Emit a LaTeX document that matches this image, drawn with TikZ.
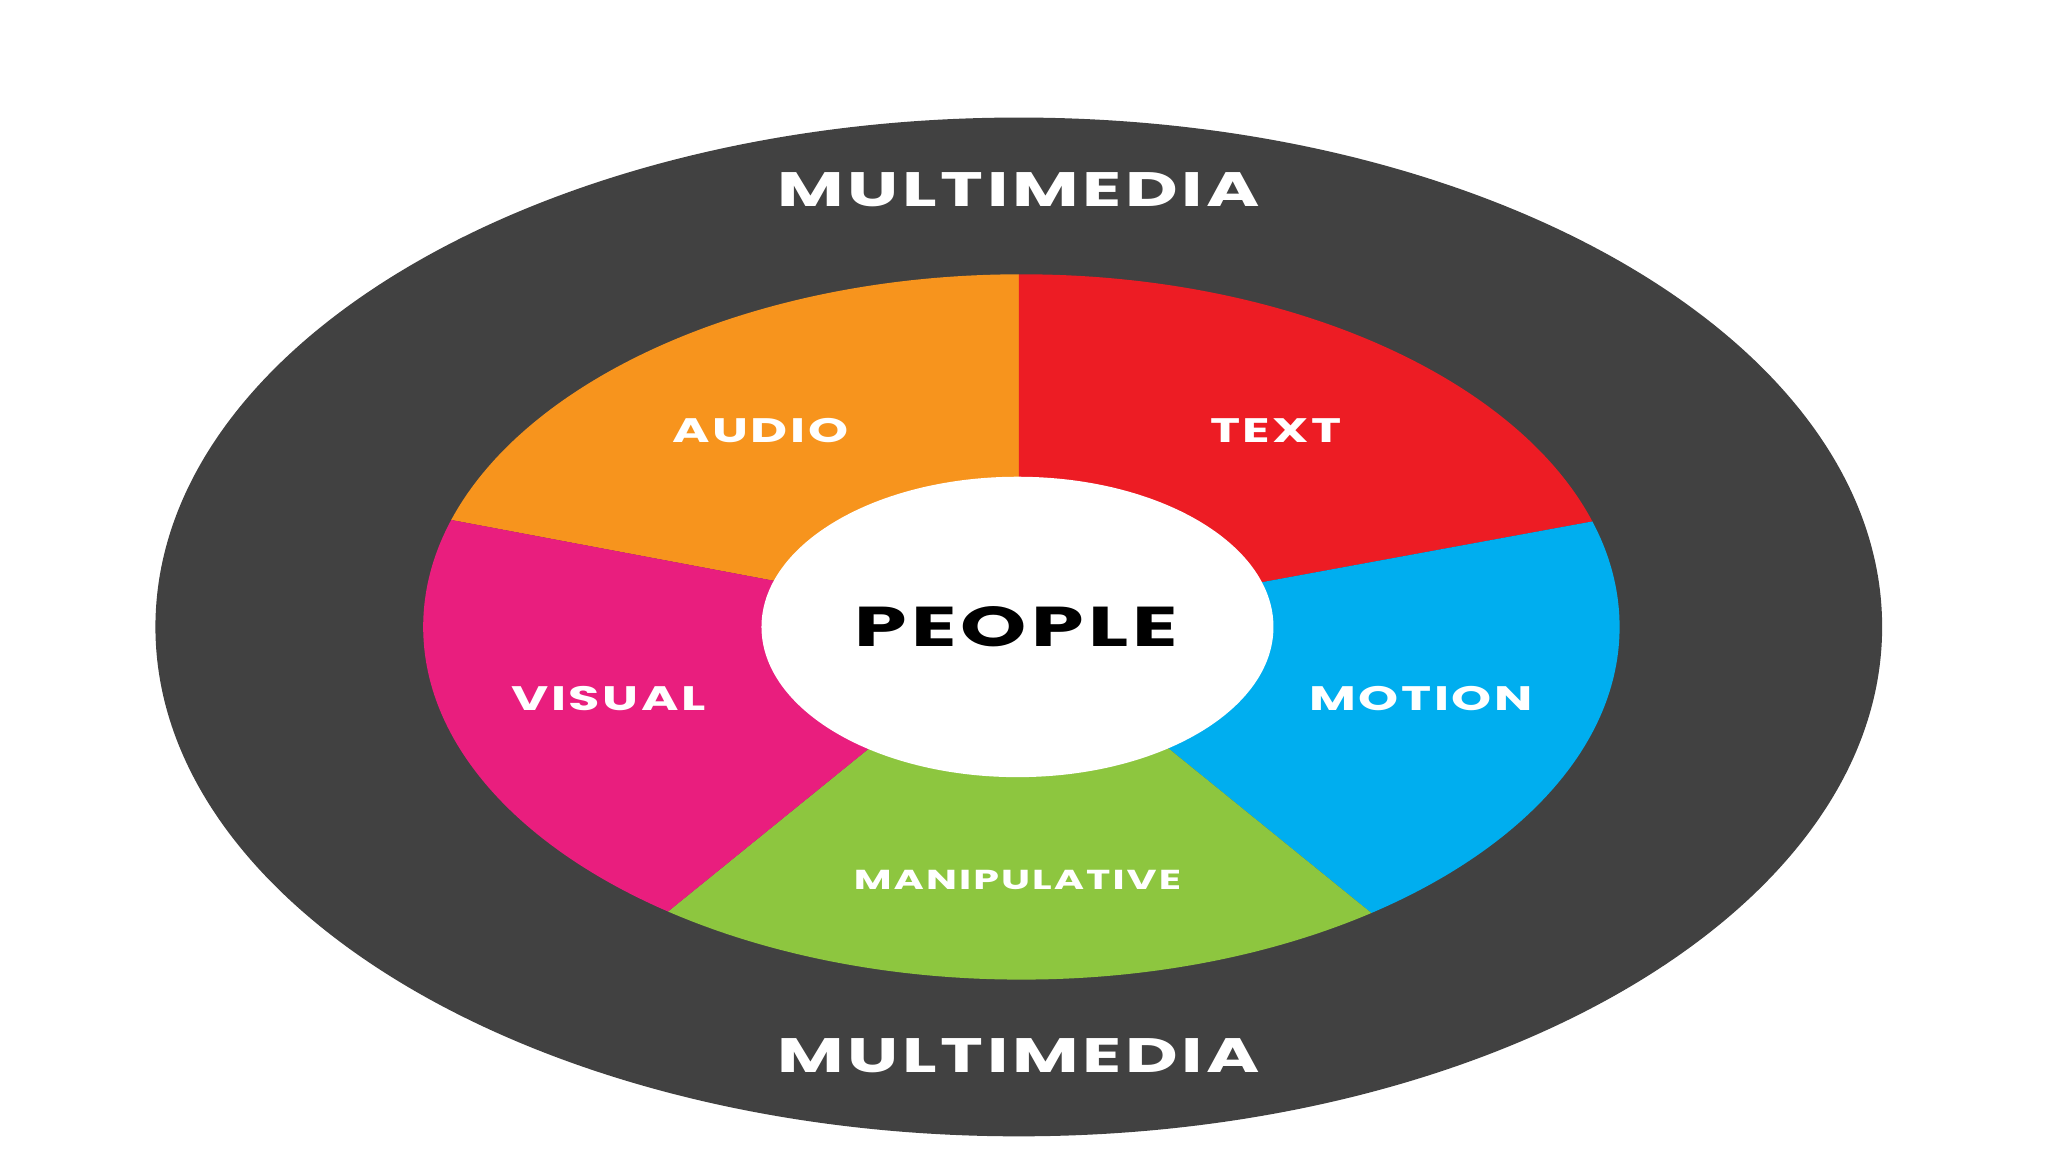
\documentclass[tikz,border=0pt]{standalone}
\usepackage{fontspec}
\setmainfont[LetterSpace=5]{Poppins}
\definecolor{dk}{HTML}{414141}
\definecolor{cor}{HTML}{F7941D}
\definecolor{cre}{HTML}{ED1C24}
\definecolor{cpi}{HTML}{E91E7E}
\definecolor{ccy}{HTML}{00AEEF}
\definecolor{cgr}{HTML}{8DC63F}
\newcommand{\wtxt}[1]{\scalebox{1.5}[1]{#1}}
\tikzset{lab/.style={text=white,font=\bfseries\fontsize{26}{30}\selectfont},
big/.style={text=white,font=\bfseries\fontsize{37}{42}\selectfont}}
\begin{document}
\begin{tikzpicture}[x=1pt,y=-1pt]
\useasboundingbox (0,0) rectangle (1568,882);
\fill[white] (0,0) rectangle (1568,882);
\fill[dk] (780,480) ellipse [x radius=661, y radius=390];
\coordinate (c) at (780,480);
\begin{scope}
\clip (782,480) ellipse [x radius=458, y radius=270];
\fill[cor] (c) -- (780,-500) -- (-525,234) -- cycle;
\fill[cre] (c) -- (780,-500) -- (2085,240) -- cycle;
\fill[ccy] (c) -- (2085,240) -- (1575,1125) -- cycle;
\fill[cgr] (c) -- (1575,1125) -- (-15,1125) -- cycle;
\fill[cpi] (c) -- (-15,1125) -- (-525,234) -- cycle;
\end{scope}
\fill[white] (779,480) ellipse [x radius=196, y radius=115];
\node[big] (mt) at (780,145) {\wtxt{MULTIMEDIA}};
\node[big] (mb) at (780,808) {\wtxt{MULTIMEDIA}};
\node[lab] (au) at (582,330) {\wtxt{AUDIO}};
\node[lab] (tx) at (977,330) {\wtxt{TEXT}};
\node[lab] (vi) at (466,535) {\wtxt{VISUAL}};
\node[lab] (mo) at (1088,535) {\wtxt{MOTION}};
\node[lab,font=\bfseries\fontsize{21}{26}\selectfont] (ma) at (779,674) {\wtxt{MANIPULATIVE}};
\node[font=\bfseries\fontsize{43}{48}\selectfont,text=black] (pe) at (778,480) {\wtxt{PEOPLE}};
\end{tikzpicture}
\end{document}
